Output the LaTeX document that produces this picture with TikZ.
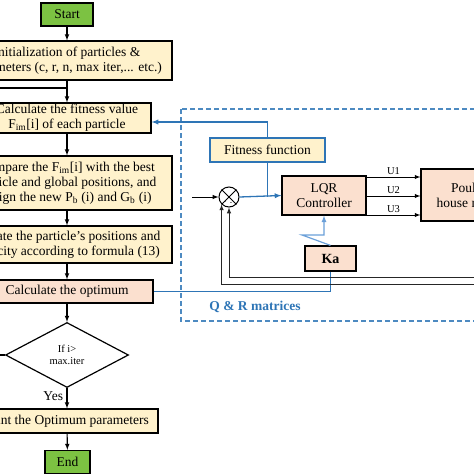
\documentclass[tikz,border=0pt]{standalone}
\usepackage{fontspec}
\setmainfont{Liberation Serif}
\usetikzlibrary{shapes.geometric}
\definecolor{boxyel}{HTML}{FFF2CC}
\definecolor{boxpch}{HTML}{FBE0CF}
\definecolor{boxgrn}{HTML}{7CC242}
\definecolor{lnblue}{HTML}{2E75B6}
\definecolor{kablue}{HTML}{6A9FD8}

\begin{document}
\begin{tikzpicture}[x=1pt, y=-1pt,
	every node/.style={font=\fontsize{13.5}{15}\selectfont},
	flow/.style={draw, line width=1.2pt, align=center, inner sep=0pt, fill=boxyel},
	term/.style={flow, fill=boxgrn},
	arr/.style={-latex, line width=1.1pt},
	bline/.style={line width=1.3pt, lnblue},
	fb/.style={-latex, line width=1pt, black!85}]
	%\draw[help lines] (0,0) grid[step=20] (474,474);
	\useasboundingbox (0,0) rectangle (474,474);
	\clip (0,0) rectangle (474,474);
	% dashed frame of the controller part
	\draw[line width=1.1pt, lnblue!85, dash pattern=on 5pt off 3pt] (181,109) rectangle (500,321);
	\node[lnblue, font=\fontsize{13.5}{15}\selectfont\bfseries] (qr) at (255,307) {Q \& R matrices};
	% PSO flowchart
	\node[term, minimum width=52, minimum height=23] (start) at (67,14.5) {Start};
	\node[flow, minimum width=210, minimum height=39] (init) at (67,60.5) {Initialization of particles \&\\ parameters (c, r, n, max iter,... etc.)};
	\node[flow, minimum width=168, minimum height=30] (fit) at (67,118) {Calculate the fitness value\\ F\textsubscript{im}[i] of each particle};
	\node[flow, minimum width=210, minimum height=54] (cmp) at (67,183) {Compare the F\textsubscript{im}[i] with the best\\ particle and global positions, and\\ assign the new P\textsubscript{b} (i) and G\textsubscript{b} (i)};
	\node[flow, minimum width=210, minimum height=37] (upd) at (67,244.5) {Update the particle's positions and\\ velocity according to formula (13)};
	\node[flow, fill=boxpch, minimum width=172, minimum height=23] (opt) at (67,291.5) {Calculate the optimum};
	\node[draw, diamond, line width=1.2pt, fill=white, inner sep=0pt, minimum width=123, minimum height=65, align=center, font=\fontsize{10.5}{12}\selectfont] (dec) at (67,355) {If i>\\ max.iter};
	\node[flow, minimum width=182, minimum height=24] (prn) at (67,421) {Print the Optimum parameters};
	\node[term, minimum width=45, minimum height=23] (end) at (67.5,462) {End};
	\draw[arr] (start) -- (init);
	\draw[arr] (init) -- (fit);
	\draw[arr] (fit) -- (cmp);
	\draw[arr] (cmp) -- (upd);
	\draw[arr] (upd) -- (opt);
	\draw[arr] (opt) -- (dec);
	\draw[arr] (dec) -- node[left, pos=0.4] {Yes} (prn);
	\draw[arr] (prn) -- (end);
	\draw[line width=1.1pt] (dec.west) -- (-48,355) |- (67,88);
	% LQR loop
	\node[flow, draw=lnblue, minimum width=115, minimum height=24] (ffun) at (267.5,150) {Fitness function};
	\node[draw, circle, line width=1pt, minimum size=20, inner sep=0pt] (sum) at (229,197) {};
	\draw[line width=0.8pt] (sum.north west) -- (sum.south east) (sum.north east) -- (sum.south west);
	\node[font=\fontsize{7}{7}\selectfont, inner sep=0pt] at (225,203) {-};
	\node[font=\fontsize{7}{7}\selectfont, inner sep=0pt] at (231,204) {-};
	\node[flow, fill=boxpch, minimum width=84, minimum height=39] (lqr) at (324,195.5) {LQR\\ Controller};
	\node[flow, fill=boxpch, minimum width=100, minimum height=52] (plant) at (471,195) {Poultry\\ house model};
	\node[flow, fill=boxpch, minimum width=51, minimum height=25, font=\fontsize{14}{15}\selectfont\bfseries] (ka) at (330.5,258.5) {Ka};
	\coordinate (in) at (192,197);
	\draw[arr, line width=1pt] (in) -- (sum.west);
	\draw[bline, -latex] (sum.east) -- (lqr.west);
	\draw[bline] (ffun.south) -- (ffun.south |- sum.east);
	\draw[bline, -latex] (ffun.north) |- ([yshift=-4pt]fit.east);
	\draw[bline] (ka.south) |- (opt.east);
	\draw[line width=1.2pt, kablue, -latex] (ka.north) -- (302,235) -- (lqr.south |- 0,235) -- (lqr.south);
	\foreach \u/\y in {1/177,2/196,3/215}
		\draw[arr, line width=0.9pt] (lqr.east |- 0,\y) -- node[above, font=\fontsize{10.5}{12}\selectfont, inner sep=1.5pt] {U\u} (plant.west |- 0,\y);
	\draw[fb] ([xshift=25pt]plant.south) -- ++(0,63) -| (sum.south west);
	\draw[fb] ([xshift=15pt]plant.south) -- ++(0,56) -| (sum.south);
\end{tikzpicture}
\end{document}
